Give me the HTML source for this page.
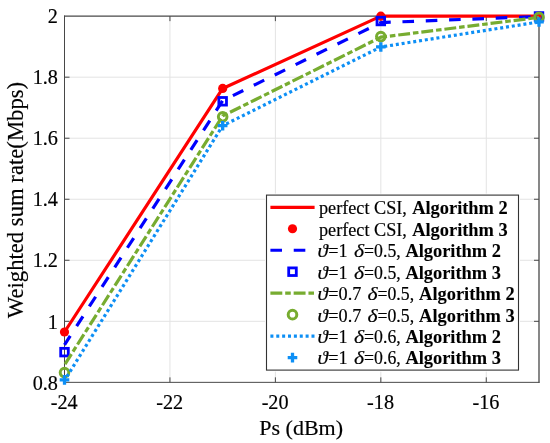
<!DOCTYPE html>
<html lang="en"><head><meta charset="utf-8"><title>Weighted sum rate vs Ps</title>
<style>html,body{margin:0;padding:0;background:#fff}body{width:550px;height:443px;overflow:hidden}svg{display:block}text{font-family:"Liberation Serif","DejaVu Serif",serif;fill:#000;stroke:#000;stroke-width:0.18px}.tk{font-size:20.2px}.lb{font-size:22px}.lg{font-size:18.2px}.b{font-weight:bold;font-size:18.4px;stroke-width:0.08px}.i{font-style:italic}</style></head><body>
<svg width="550" height="443" viewBox="0 0 550 443">
<rect width="550" height="443" fill="#fff"/>
<g stroke="#e3e3e3" stroke-width="1" fill="none">
<line x1="169.94" y1="16.15" x2="169.94" y2="382.35"/>
<line x1="275.39" y1="16.15" x2="275.39" y2="382.35"/>
<line x1="380.83" y1="16.15" x2="380.83" y2="382.35"/>
<line x1="486.28" y1="16.15" x2="486.28" y2="382.35"/>
<line x1="64.5" y1="321.32" x2="539" y2="321.32"/>
<line x1="64.5" y1="260.28" x2="539" y2="260.28"/>
<line x1="64.5" y1="199.25" x2="539" y2="199.25"/>
<line x1="64.5" y1="138.22" x2="539" y2="138.22"/>
<line x1="64.5" y1="77.18" x2="539" y2="77.18"/>
</g>
<g stroke="#484848" stroke-width="1" fill="none">
<line x1="64.5" y1="15.55" x2="64.5" y2="382.85"/>
<line x1="64" y1="382.35" x2="539.6" y2="382.35"/>
<line x1="64" y1="16.15" x2="539.6" y2="16.15" stroke-width="1.3"/>
<line x1="539" y1="15.55" x2="539" y2="382.85" stroke-width="1.3"/>
<line x1="169.94" y1="382.35" x2="169.94" y2="377.35"/>
<line x1="169.94" y1="16.15" x2="169.94" y2="21.15"/>
<line x1="275.39" y1="382.35" x2="275.39" y2="377.35"/>
<line x1="275.39" y1="16.15" x2="275.39" y2="21.15"/>
<line x1="380.83" y1="382.35" x2="380.83" y2="377.35"/>
<line x1="380.83" y1="16.15" x2="380.83" y2="21.15"/>
<line x1="486.28" y1="382.35" x2="486.28" y2="377.35"/>
<line x1="486.28" y1="16.15" x2="486.28" y2="21.15"/>
<line x1="64.5" y1="321.32" x2="69.5" y2="321.32"/>
<line x1="539" y1="321.32" x2="534" y2="321.32"/>
<line x1="64.5" y1="260.28" x2="69.5" y2="260.28"/>
<line x1="539" y1="260.28" x2="534" y2="260.28"/>
<line x1="64.5" y1="199.25" x2="69.5" y2="199.25"/>
<line x1="539" y1="199.25" x2="534" y2="199.25"/>
<line x1="64.5" y1="138.22" x2="69.5" y2="138.22"/>
<line x1="539" y1="138.22" x2="534" y2="138.22"/>
<line x1="64.5" y1="77.18" x2="69.5" y2="77.18"/>
<line x1="539" y1="77.18" x2="534" y2="77.18"/>
</g>
<g class="tk" text-anchor="middle">
<text x="64.2" y="408.7">-24</text>
<text x="169.64" y="408.7">-22</text>
<text x="275.09" y="408.7">-20</text>
<text x="380.53" y="408.7">-18</text>
<text x="485.98" y="408.7">-16</text>
</g>
<g class="tk" text-anchor="end">
<text x="57.9" y="389.55">0.8</text>
<text x="57.9" y="328.52">1</text>
<text x="57.9" y="267.48">1.2</text>
<text x="57.9" y="206.45">1.4</text>
<text x="57.9" y="145.42">1.6</text>
<text x="57.9" y="84.38">1.8</text>
<text x="57.9" y="23.35">2</text>
</g>
<text class="lb" text-anchor="middle" x="301.2" y="435.2">Ps (dBm)</text>
<text class="lb" style="font-size:22.7px" text-anchor="middle" transform="translate(22.6,200) rotate(-90)">Weighted sum rate(Mbps)</text>
<polyline points="64.5,332 222.67,88.47 380.83,16.15 539,16.15" fill="none" stroke="#ff0000" stroke-width="3.2" stroke-linejoin="round"/>
<circle cx="64.5" cy="332" r="4.6" fill="#ff0000"/>
<circle cx="222.67" cy="88.47" r="4.6" fill="#ff0000"/>
<circle cx="380.83" cy="16.15" r="4.6" fill="#ff0000"/>
<circle cx="539" cy="16.15" r="4.6" fill="#ff0000"/>
<polyline points="64.5,344.81 222.67,100.68 380.83,22.56 539,16.46" fill="none" stroke="#0000ff" stroke-width="3.2" stroke-linejoin="round" stroke-dasharray="11.6 11.73" stroke-dashoffset="1"/>
<rect x="60.7" y="348.34" width="7.6" height="7.6" fill="none" stroke="#0000ff" stroke-width="2.8"/>
<rect x="218.87" y="97.49" width="7.6" height="7.6" fill="none" stroke="#0000ff" stroke-width="2.8"/>
<rect x="377.03" y="17.23" width="7.6" height="7.6" fill="none" stroke="#0000ff" stroke-width="2.8"/>
<rect x="535.2" y="12.66" width="7.6" height="7.6" fill="none" stroke="#0000ff" stroke-width="2.8"/>
<polyline points="64.5,364.96 222.67,115.94 380.83,37.21 539,17.37" fill="none" stroke="#77ac30" stroke-width="3.2" stroke-linejoin="round" stroke-dasharray="11.9 2.9 5.55 2.9" stroke-dashoffset="22.25"/>
<circle cx="64.5" cy="372.58" r="4.3" fill="none" stroke="#77ac30" stroke-width="3"/>
<circle cx="222.67" cy="116.86" r="4.3" fill="none" stroke="#77ac30" stroke-width="3"/>
<circle cx="380.83" cy="36.6" r="4.3" fill="none" stroke="#77ac30" stroke-width="3"/>
<circle cx="539" cy="17.37" r="4.3" fill="none" stroke="#77ac30" stroke-width="3"/>
<polyline points="64.5,380.52 222.67,125.7 380.83,46.97 539,21.95" fill="none" stroke="#0d8ff5" stroke-width="3.2" stroke-linejoin="round" stroke-dasharray="3 2.87" stroke-dashoffset="1.3"/>
<path d="M59.7 379.91h9.6M64.5 375.11v9.6" fill="none" stroke="#0d8ff5" stroke-width="3.3"/>
<path d="M217.87 125.7h9.6M222.67 120.9v9.6" fill="none" stroke="#0d8ff5" stroke-width="3.3"/>
<path d="M376.03 46.97h9.6M380.83 42.17v9.6" fill="none" stroke="#0d8ff5" stroke-width="3.3"/>
<path d="M534.2 21.95h9.6M539 17.15v9.6" fill="none" stroke="#0d8ff5" stroke-width="3.3"/>
<rect x="265" y="193.6" width="255" height="178" fill="#fff"/>
<rect x="266.5" y="195.1" width="252" height="175" fill="#fff" stroke="#333" stroke-width="1.1"/>
<line x1="270.4" y1="207.3" x2="314.6" y2="207.3" stroke="#ff0000" stroke-width="3.2"/>
<text class="lg" x="319" y="214.2">perfect CSI, <tspan class="b" x="412.2">Algorithm 2</tspan></text>
<circle cx="292.5" cy="228.77" r="4.6" fill="#ff0000"/>
<text class="lg" x="319" y="235.67">perfect CSI, <tspan class="b" x="412.2">Algorithm 3</tspan></text>
<line x1="270.4" y1="250.24" x2="314.6" y2="250.24" stroke="#0000ff" stroke-width="3.2" stroke-dasharray="11.6 11.73"/>
<text class="lg" y="257.14"><tspan class="i" x="317.4" textLength="10.4" lengthAdjust="spacingAndGlyphs">ϑ</tspan><tspan x="328.3">=1</tspan><tspan class="i" x="354" textLength="10.1" lengthAdjust="spacingAndGlyphs">δ</tspan><tspan x="364.1" textLength="36.6" lengthAdjust="spacingAndGlyphs">=0.5,</tspan><tspan class="b" x="400.8"> Algorithm 2</tspan></text>
<rect x="288.7" y="267.91" width="7.6" height="7.6" fill="none" stroke="#0000ff" stroke-width="2.8"/>
<text class="lg" y="278.61"><tspan class="i" x="317.4" textLength="10.4" lengthAdjust="spacingAndGlyphs">ϑ</tspan><tspan x="328.3">=1</tspan><tspan class="i" x="354" textLength="10.1" lengthAdjust="spacingAndGlyphs">δ</tspan><tspan x="364.1" textLength="36.6" lengthAdjust="spacingAndGlyphs">=0.5,</tspan><tspan class="b" x="400.8"> Algorithm 3</tspan></text>
<line x1="270.4" y1="293.18" x2="314.6" y2="293.18" stroke="#77ac30" stroke-width="3.2" stroke-dasharray="11.9 2.9 5.55 2.9"/>
<text class="lg" y="300.08"><tspan class="i" x="317.4" textLength="10.4" lengthAdjust="spacingAndGlyphs">ϑ</tspan><tspan x="328.3">=0.7</tspan><tspan class="i" x="367.4" textLength="10.1" lengthAdjust="spacingAndGlyphs">δ</tspan><tspan x="377.5" textLength="36.6" lengthAdjust="spacingAndGlyphs">=0.5,</tspan><tspan class="b" x="414.5"> Algorithm 2</tspan></text>
<circle cx="292.5" cy="314.65" r="4.3" fill="none" stroke="#77ac30" stroke-width="3"/>
<text class="lg" y="321.55"><tspan class="i" x="317.4" textLength="10.4" lengthAdjust="spacingAndGlyphs">ϑ</tspan><tspan x="328.3">=0.7</tspan><tspan class="i" x="367.4" textLength="10.1" lengthAdjust="spacingAndGlyphs">δ</tspan><tspan x="377.5" textLength="36.6" lengthAdjust="spacingAndGlyphs">=0.5,</tspan><tspan class="b" x="414.5"> Algorithm 3</tspan></text>
<line x1="270.4" y1="336.12" x2="314.6" y2="336.12" stroke="#0d8ff5" stroke-width="3.2" stroke-dasharray="3 2.87"/>
<text class="lg" y="343.02"><tspan class="i" x="317.4" textLength="10.4" lengthAdjust="spacingAndGlyphs">ϑ</tspan><tspan x="328.3">=1</tspan><tspan class="i" x="354" textLength="10.1" lengthAdjust="spacingAndGlyphs">δ</tspan><tspan x="364.1" textLength="36.6" lengthAdjust="spacingAndGlyphs">=0.6,</tspan><tspan class="b" x="400.8"> Algorithm 2</tspan></text>
<path d="M287.7 357.59h9.6M292.5 352.79v9.6" fill="none" stroke="#0d8ff5" stroke-width="3.3"/>
<text class="lg" y="364.49"><tspan class="i" x="317.4" textLength="10.4" lengthAdjust="spacingAndGlyphs">ϑ</tspan><tspan x="328.3">=1</tspan><tspan class="i" x="354" textLength="10.1" lengthAdjust="spacingAndGlyphs">δ</tspan><tspan x="364.1" textLength="36.6" lengthAdjust="spacingAndGlyphs">=0.6,</tspan><tspan class="b" x="400.8"> Algorithm 3</tspan></text>
</svg></body></html>
